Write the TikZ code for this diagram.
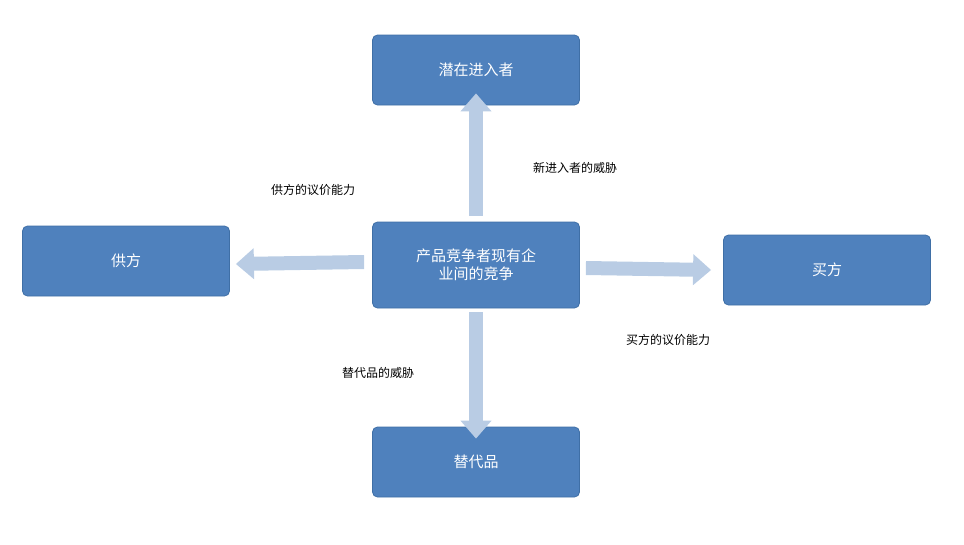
\documentclass[tikz,border=0pt]{standalone}
\usepackage{fontspec}
\setmainfont{Noto Sans CJK SC}
\usetikzlibrary{arrows.meta}
\definecolor{boxc}{HTML}{4F81BD}
\definecolor{boxd}{HTML}{3F6FA6}
\definecolor{arr}{HTML}{B9CCE4}
\begin{document}
\begin{tikzpicture}[x=1pt,y=-1pt,
  box/.style={draw=boxd,fill=boxc,rounded corners=5pt,text=white,font=\fontsize{15}{18}\selectfont,minimum width=207pt,minimum height=70pt,align=center,line width=0.8pt},
  lab/.style={font=\fontsize{12}{14}\selectfont,text=black},
  fat/.style={draw=arr,line width=14pt,-{Triangle[width=30pt,length=18pt]}}]
\useasboundingbox (0,0) rectangle (964,544);
\node[box] (top) at (476,70) {潜在进入者};
\node[box] (left) at (126,261) {供方};
\node[box] (right) at (827,270) {买方};
\node[box] (bot) at (476,462) {替代品};
\node[box,minimum height=86pt,text width=200pt] (c) at (476,265) {产品竞争者现有企\\业间的竞争};
\draw[fat] (c.north) ++(0,-6) -- ([yshift=12]top.south);
\draw[fat] (c.west) ++(-8,-3) -- ([xshift=6,yshift=-3]left.east);
\draw[fat] (c.east) ++(6,3) -- ([xshift=-12]right.west);
\draw[fat] (c.south) ++(0,4) -- ([yshift=-12]bot.north);
\node[lab] (l1) at (575,168) {新进入者的威胁};
\node[lab] (l2) at (313,190) {供方的议价能力};
\node[lab] (l3) at (668,340) {买方的议价能力};
\node[lab] (l4) at (378,373) {替代品的威胁};
\end{tikzpicture}
\end{document}
